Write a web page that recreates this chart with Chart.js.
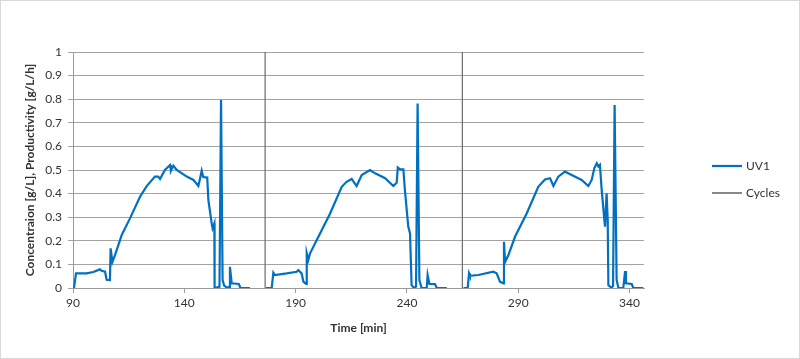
<!DOCTYPE html>
<html>
<head>
<meta charset="utf-8">
<script src="https://cdn.jsdelivr.net/npm/chart.js@4"></script>
<style>
  html, body { margin: 0; padding: 0; background: #fff; }
  #wrap { width: 800px; height: 359px; }
</style>
</head>
<body>
<div id="wrap"><canvas id="myChart" width="800" height="359"></canvas></div>
<script>
// UV1 trace, one pair of arrays per cycle (time in min, value in g/L)
const cycle1Time = [90.45, 91.35, 96.1, 99.1, 102.1, 102.9, 104.4, 105.1, 106.6, 106.9, 107.7, 108.9, 111.9, 115.6, 120.1, 123.1, 126.8, 128.3, 129.1, 131.3, 133.6, 134.0, 135.1, 136.6, 141.1, 144.1, 146.3, 147.1, 147.8, 148.5, 150.3, 150.8, 152.3, 152.7, 153.5, 153.6, 155.8, 156.5, 157.2, 157.9, 159.4, 160.1, 160.5, 161.3, 164.5, 165.2, 169.5];
const cycle1UV = [0, 0.062, 0.062, 0.068, 0.079, 0.073, 0.069, 0.035, 0.034, 0.168, 0.11, 0.14, 0.225, 0.295, 0.387, 0.432, 0.472, 0.472, 0.462, 0.5, 0.521, 0.497, 0.518, 0.5, 0.472, 0.458, 0.432, 0.465, 0.497, 0.47, 0.468, 0.373, 0.274, 0.253, 0.274, 0, 0.005, 0.797, 0.034, 0.01, 0, 0.005, 0.09, 0.02, 0.017, 0, 0];

const cycle2Time = [176.7, 179.25, 180.0, 180.7, 186.0, 190.5, 191.2, 192.7, 193.5, 194.7, 195.0, 195.7, 196.5, 199.5, 205.5, 210.7, 212.9, 215.2, 217.4, 219.7, 223.4, 225.7, 230.2, 233.9, 235.4, 235.9, 236.9, 238.4, 239.1, 240.6, 241.4, 242.1, 243.2, 244.1, 244.8, 245.6, 246.6, 248.9, 249.3, 250.1, 252.6, 253.4, 257.9];
const cycle2UV = [0, 0, 0.065, 0.055, 0.062, 0.069, 0.076, 0.062, 0.027, 0.017, 0.147, 0.119, 0.147, 0.203, 0.316, 0.429, 0.45, 0.462, 0.432, 0.479, 0.5, 0.486, 0.465, 0.432, 0.446, 0.511, 0.503, 0.503, 0.415, 0.26, 0.231, 0.012, 0, 0.006, 0.782, 0.034, 0, 0, 0.055, 0.017, 0.017, 0, 0];

const cycle3Time = [265.4, 267.3, 267.9, 268.3, 272.1, 278.8, 280.3, 281.8, 283.3, 283.6, 284.1, 285.6, 288.6, 293.8, 299.0, 302.0, 304.3, 305.8, 308.0, 311.0, 314.0, 318.5, 321.5, 323.0, 324.2, 325.3, 326.0, 326.7, 327.5, 328.7, 329.0, 329.7, 330.2, 330.5, 332.0, 332.6, 333.3, 334.2, 335.0, 337.2, 338.0, 338.4, 341.0, 341.7, 346.2];
const cycle3UV = [0, 0, 0.062, 0.052, 0.055, 0.069, 0.062, 0.027, 0.02, 0.196, 0.11, 0.14, 0.218, 0.316, 0.429, 0.46, 0.465, 0.432, 0.472, 0.493, 0.479, 0.458, 0.432, 0.458, 0.508, 0.529, 0.515, 0.522, 0.415, 0.288, 0.26, 0.401, 0.288, 0.012, 0, 0.01, 0.775, 0.034, 0, 0, 0.072, 0.02, 0.017, 0, 0];

// cycle boundaries (min) and the vertical span of their marker lines
const cycleTimes = [176.3, 264.9];
const cycleSpan = [0, 1];

const xTicks = [90, 140, 190, 240, 290, 340];
const yTicks = [0, 0.1, 0.2, 0.3, 0.4, 0.5, 0.6, 0.7, 0.8, 0.9, 1];

const seriesNames = ["UV1", "Cycles"];
const seriesColors = ["#0070C0", "#6b6b6b"];

function toPoints(times, values) {
  return times.map((t, i) => ({ x: t, y: values[i] }));
}

const uvPoints = [];
[[cycle1Time, cycle1UV], [cycle2Time, cycle2UV], [cycle3Time, cycle3UV]].forEach((c, i) => {
  if (i > 0) uvPoints.push({ x: c[0][0] - 0.1, y: null });
  uvPoints.push(...toPoints(c[0], c[1]));
});

const cyclePoints = [];
cycleTimes.forEach((t, i) => {
  if (i > 0) cyclePoints.push({ x: t - 0.1, y: null });
  cyclePoints.push({ x: t, y: cycleSpan[0] }, { x: t, y: cycleSpan[1] });
});

const FONT = "Lato, 'Open Sans', sans-serif";
const textColor = "#333333";

// white background, light outer frame and a legend on the right
const frame = {
  id: "frame",
  beforeDraw(chart) {
    const ctx = chart.ctx;
    ctx.save();
    ctx.fillStyle = "#fff";
    ctx.fillRect(0, 0, chart.width, chart.height);
    ctx.restore();
  },
  afterDraw(chart) {
    const ctx = chart.ctx;
    ctx.save();
    ctx.strokeStyle = "#d9d9d9";
    ctx.lineWidth = 1;
    ctx.strokeRect(0.5, 0.5, chart.width - 1, chart.height - 1);
    const rows = [166, 193];
    chart.data.datasets.forEach((ds, i) => {
      const y = rows[i];
      ctx.strokeStyle = ds.borderColor;
      ctx.lineWidth = i === 0 ? 2.2 : 1.6;
      ctx.beginPath();
      ctx.moveTo(712, y);
      ctx.lineTo(742, y);
      ctx.stroke();
      ctx.fillStyle = textColor;
      ctx.font = "12px " + FONT;
      ctx.textBaseline = "middle";
      ctx.textAlign = "left";
      ctx.fillText(ds.label, 746, y);
    });
    ctx.restore();
  }
};

new Chart("myChart", {
  type: "scatter",
  data: {
    datasets: [{
      label: seriesNames[0],
      data: uvPoints,
      showLine: true,
      borderColor: seriesColors[0],
      backgroundColor: seriesColors[0],
      borderWidth: 2.2,
      pointRadius: 0,
      spanGaps: false,
      order: 2
    }, {
      label: seriesNames[1],
      data: cyclePoints,
      showLine: true,
      borderColor: seriesColors[1],
      backgroundColor: seriesColors[1],
      borderWidth: 1.2,
      pointRadius: 0,
      spanGaps: false,
      order: 1
    }]
  },
  options: {
    responsive: false,
    animation: false,
    layout: { padding: { left: 19, right: 156, top: 52, bottom: 20 } },
    plugins: {
      legend: { display: false },
      tooltip: { enabled: false }
    },
    scales: {
      x: {
        type: "linear",
        min: 90,
        max: 346.5,
        afterBuildTicks: (s) => { s.ticks = xTicks.map(v => ({ value: v })); },
        afterFit: (s) => { s.height = 51; },
        grid: { drawOnChartArea: false, drawTicks: true, tickLength: 5, color: "#9a9a9a" },
        border: { color: "#9a9a9a" },
        ticks: { color: textColor, font: { family: FONT, size: 12 }, padding: 3, maxRotation: 0 },
        title: { display: true, text: "Time [min]", color: textColor, font: { family: FONT, size: 12, weight: "bold" }, padding: { top: 0, bottom: 4 } }
      },
      y: {
        min: 0,
        max: 1,
        afterBuildTicks: (s) => { s.ticks = yTicks.map(v => ({ value: v })); },
        afterFit: (s) => { s.width = 54; },
        grid: { color: "#a3a3a3", tickLength: 5 },
        border: { color: "#9a9a9a" },
        ticks: {
          color: textColor, font: { family: FONT, size: 12 }, padding: 6,
          callback: (v) => String(Math.round(v * 10) / 10)
        },
        title: { display: true, text: "Concentraion [g/L], Productivity [g/L/h]", color: textColor, font: { family: FONT, size: 12, weight: "bold" }, padding: { top: 4, bottom: 0 } }
      }
    }
  },
  plugins: [frame]
});
</script>
</body>
</html>
